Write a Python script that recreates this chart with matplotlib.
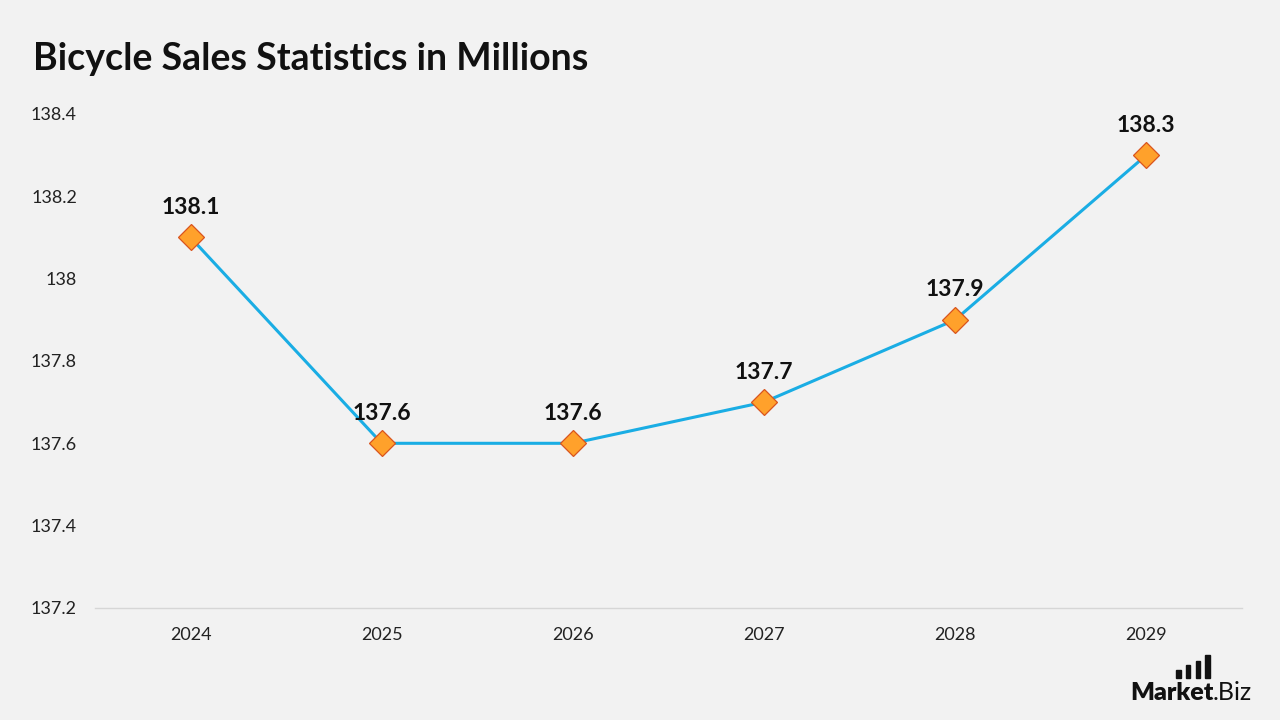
import matplotlib.pyplot as plt
from matplotlib.patches import Rectangle

# data
years = ["2024", "2025", "2026", "2027", "2028", "2029"]
sales = [138.1, 137.6, 137.6, 137.7, 137.9, 138.3]
yticks = [137.2, 137.4, 137.6, 137.8, 138.0, 138.2, 138.4]
ytick_labels = ["137.2", "137.4", "137.6", "137.8", "138", "138.2", "138.4"]

BG = "#F2F2F2"
plt.rcParams["font.family"] = ["Lato", "DejaVu Sans"]

fig = plt.figure(figsize=(12.8, 7.2), dpi=100, facecolor=BG)
ax = fig.add_axes([0.0742, 0.1556, 0.896, 0.6861], facecolor=BG)

x = list(range(len(years)))
ax.plot(x, sales, color="#1AADE4", lw=2.2, zorder=2)
ax.plot(x, sales, ls="none", marker="D", ms=13, mfc="#FFA12B",
        mec="#D9541E", mew=0.9, zorder=3)
for xi, v in zip(x, sales):
    ax.annotate(f"{v:g}", (xi, v), xytext=(0, 14), textcoords="offset points",
                ha="center", va="bottom", fontsize=16.5, fontweight="bold",
                color="#111111")

ax.set_xlim(-0.5, len(years) - 0.5)
ax.set_ylim(137.2, 138.4)
ax.set_xticks(x, years)
ax.set_yticks(yticks, ytick_labels)
ax.tick_params(length=0, labelsize=13, colors="#222222")
ax.tick_params(axis="y", pad=13)
ax.tick_params(axis="x", pad=14)
for s in ["top", "right", "left"]:
    ax.spines[s].set_visible(False)
ax.spines["bottom"].set_color("#D6D6D6")
ax.spines["bottom"].set_linewidth(1)

fig.text(0.026, 0.918, "Bicycle Sales Statistics in Millions", fontsize=27,
         fontweight="bold", color="#111111", va="center", ha="left")

# logo
fig.text(0.883, 0.028, "Market", fontsize=18, fontweight="heavy",
         color="#111111", ha="left", va="baseline")
fig.text(0.9475, 0.028, ".Biz", fontsize=18, color="#111111",
         ha="left", va="baseline")
for i, h in enumerate([0.012, 0.018, 0.024, 0.032]):
    fig.patches.append(Rectangle((0.919 + i * 0.0075, 0.058), 0.0035, h,
                                 transform=fig.transFigure, color="#111111"))

fig.savefig("out.png", dpi=100, facecolor=BG)
